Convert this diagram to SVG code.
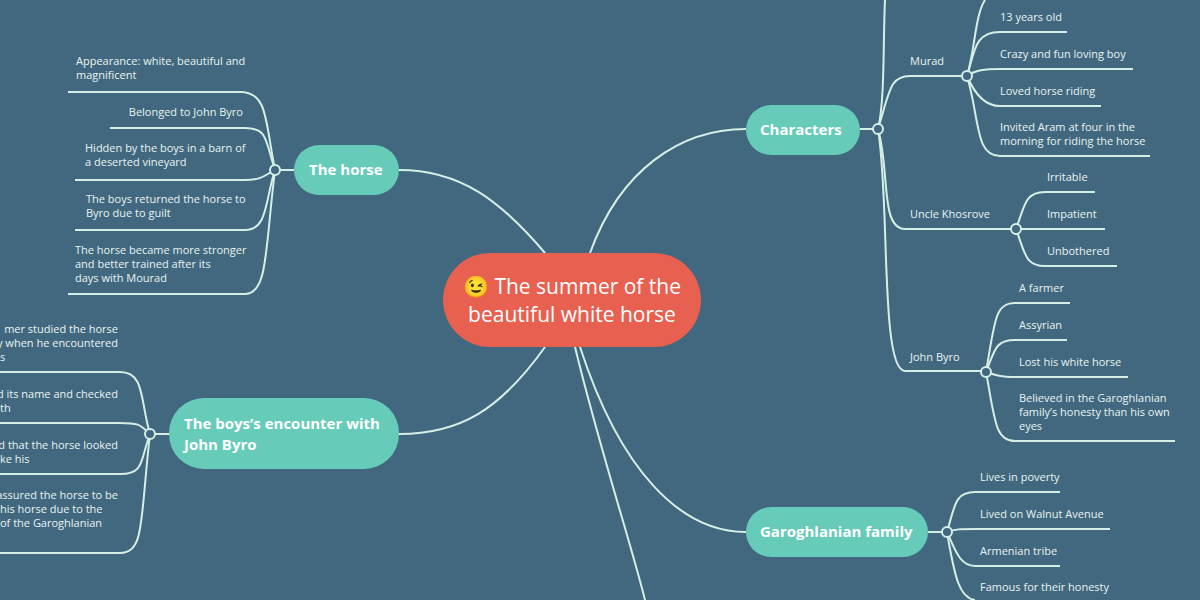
<svg xmlns="http://www.w3.org/2000/svg" width="1200" height="600" viewBox="0 0 1200 600">
<style>
.c{fill:none;stroke:#d6efe6;stroke-width:2}
.dot{fill:#41687f;stroke:#d6efe6;stroke-width:2}
.t{font-family:"Open Sans","Noto Sans",sans-serif;font-size:11px;fill:#eaf3f2}
.tr{text-anchor:end}
.m{fill:#66cbb9}
.mt{font-family:"Open Sans","Noto Sans",sans-serif;font-size:15px;font-weight:bold;fill:#fff}
</style>
<rect width="1200" height="600" fill="#41687f"/>
<g id="connectors">
<path class="c" d="M590 253 C620 170 680 129 746 129"/>
<path class="c" d="M545 253 C500 200 460 170 399 170"/>
<path class="c" d="M545 347 C500 410 460 434 399 434"/>
<path class="c" d="M580 347 C620 470 680 532 746 532"/>
<path class="c" d="M575 347 C600 450 630 540 645 600"/>
<path class="c" d="M860 129 H878"/>
<path class="c" d="M878 129 C885 100 883 40 885 0"/>
<path class="c" d="M878 129 C890 90 890 76 910 76 H967"/>
<path class="c" d="M878 129 C890 170 880 229 905 229 H1016"/>
<path class="c" d="M878 129 C890 200 880 371 905 371 H986"/>
<path class="c" d="M967 76 C975 50 975 15 985 0"/>
<path class="c" d="M967 76 C975 50 975 32 1000 32 H1067"/>
<path class="c" d="M967 76 C975 70 985 69 1000 69 H1133"/>
<path class="c" d="M967 76 C975 95 985 106 1000 106 H1101"/>
<path class="c" d="M967 76 C980 120 975 156 1000 156 H1150"/>
<path class="c" d="M1016 229 C1025 205 1025 192 1045 192 H1095"/>
<path class="c" d="M1016 229 H1105"/>
<path class="c" d="M1016 229 C1025 253 1025 266 1045 266 H1117"/>
<path class="c" d="M986 372 C995 320 995 303 1015 303 H1070"/>
<path class="c" d="M986 372 C995 350 995 340 1015 340 H1067"/>
<path class="c" d="M986 372 C995 375 1000 377 1015 377 H1128"/>
<path class="c" d="M986 372 C995 420 995 441 1015 441 H1175"/>
<path class="c" d="M947 532 C955 505 955 492 975 492 H1060"/>
<path class="c" d="M947 532 C955 529 960 529 975 529 H1110"/>
<path class="c" d="M947 532 C955 550 960 566 975 566 H1060"/>
<path class="c" d="M947 532 C955 580 960 598 975 600"/>
<path class="c" d="M928 532 H947"/>
<path class="c" d="M294 170 H275"/>
<path class="c" d="M275 170 C265 120 268 92 240 92 H68"/>
<path class="c" d="M275 170 C265 140 268 128 245 128 H110"/>
<path class="c" d="M275 170 C265 175 262 180 245 180 H75"/>
<path class="c" d="M275 170 C265 200 268 230 245 230 H75"/>
<path class="c" d="M275 170 C265 250 268 294 245 294 H68"/>
<path class="c" d="M169 434 H150"/>
<path class="c" d="M150 434 C140 400 145 372 120 372 H0"/>
<path class="c" d="M150 434 C140 425 140 423 120 423 H0"/>
<path class="c" d="M150 434 C140 460 145 474 120 474 H0"/>
<path class="c" d="M150 434 C140 520 145 553 120 553 H0"/>
</g>
<g id="center"><rect x="443" y="253" width="258" height="94" rx="47" fill="#e8604f"/>
<text x="572" y="294" text-anchor="middle" font-family="'Open Sans','Noto Sans',sans-serif" font-size="21" fill="#fff">😉 The summer of the</text>
<text x="572" y="322" text-anchor="middle" font-family="'Open Sans','Noto Sans',sans-serif" font-size="21" fill="#fff">beautiful white horse</text></g>
<g id="characters"><rect class="m" x="746" y="105" width="114" height="50" rx="25"/><text class="mt" x="760" y="135">Characters</text><circle class="dot" cx="878" cy="129" r="5"/></g>
<g id="horse"><rect class="m" x="294" y="145" width="105" height="50" rx="25"/><text class="mt" x="309" y="175">The horse</text><circle class="dot" cx="275" cy="170" r="5"/></g>
<g id="boys"><rect class="m" x="169" y="398" width="230" height="71" rx="35"/><text class="mt" x="184" y="429">The boys’s encounter with</text><text class="mt" x="184" y="450">John Byro</text><circle class="dot" cx="150" cy="434" r="5"/></g>
<g id="garo"><rect class="m" x="746" y="507" width="182" height="50" rx="25"/><text class="mt" x="760" y="537">Garoghlanian family</text><circle class="dot" cx="947" cy="532" r="5"/></g>
<g id="murad"><text class="t" x="910" y="65">Murad</text><circle class="dot" cx="967" cy="76" r="5"/>
<text class="t" x="1000" y="21">13 years old</text><text class="t" x="1000" y="58">Crazy and fun loving boy</text><text class="t" x="1000" y="95">Loved horse riding</text><text class="t" x="1000" y="131">Invited Aram at four in the</text><text class="t" x="1000" y="145">morning for riding the horse</text></g>
<g id="khosrove"><text class="t" x="910" y="218">Uncle Khosrove</text><circle class="dot" cx="1016" cy="229" r="5"/>
<text class="t" x="1047" y="181">Irritable</text><text class="t" x="1047" y="218">Impatient</text><text class="t" x="1047" y="255">Unbothered</text></g>
<g id="johnbyro"><text class="t" x="910" y="361">John Byro</text><circle class="dot" cx="986" cy="372" r="5"/>
<text class="t" x="1019" y="292">A farmer</text><text class="t" x="1019" y="329">Assyrian</text><text class="t" x="1019" y="366">Lost his white horse</text><text class="t" x="1019" y="402">Believed in the Garoghlanian</text><text class="t" x="1019" y="416">family’s honesty than his own</text><text class="t" x="1019" y="430">eyes</text></g>
<g id="garo-items"><text class="t" x="980" y="481">Lives in poverty</text><text class="t" x="980" y="518">Lived on Walnut Avenue</text><text class="t" x="980" y="555">Armenian tribe</text><text class="t" x="980" y="591">Famous for their honesty</text></g>
<g id="horse-items"><text class="t" x="76" y="65">Appearance: white, beautiful and</text><text class="t" x="76" y="79">magnificent</text>
<text class="t tr" x="243" y="116">Belonged to John Byro</text>
<text class="t" x="85" y="152">Hidden by the boys in a barn of</text><text class="t" x="85" y="166">a deserted vineyard</text>
<text class="t" x="86" y="203">The boys returned the horse to</text><text class="t" x="86" y="217">Byro due to guilt</text>
<text class="t" x="75" y="254">The horse became more stronger</text><text class="t" x="75" y="268">and better trained after its</text><text class="t" x="75" y="282">days with Mourad</text></g>
<g id="boys-items"><text class="t tr" x="118" y="333">mer studied the horse</text><text class="t tr" x="118" y="347">y when he encountered</text><text class="t" x="0" y="361">s</text>
<text class="t tr" x="118" y="398">d its name and checked</text><text class="t" x="0" y="412">th</text>
<text class="t tr" x="118" y="449">d that the horse looked</text><text class="t" x="0" y="463">ke his</text>
<text class="t tr" x="118" y="499">assured the horse to be</text><text class="t" x="0" y="513">his horse due to the</text><text class="t" x="0" y="527">of the Garoghlanian</text></g>
</svg>
